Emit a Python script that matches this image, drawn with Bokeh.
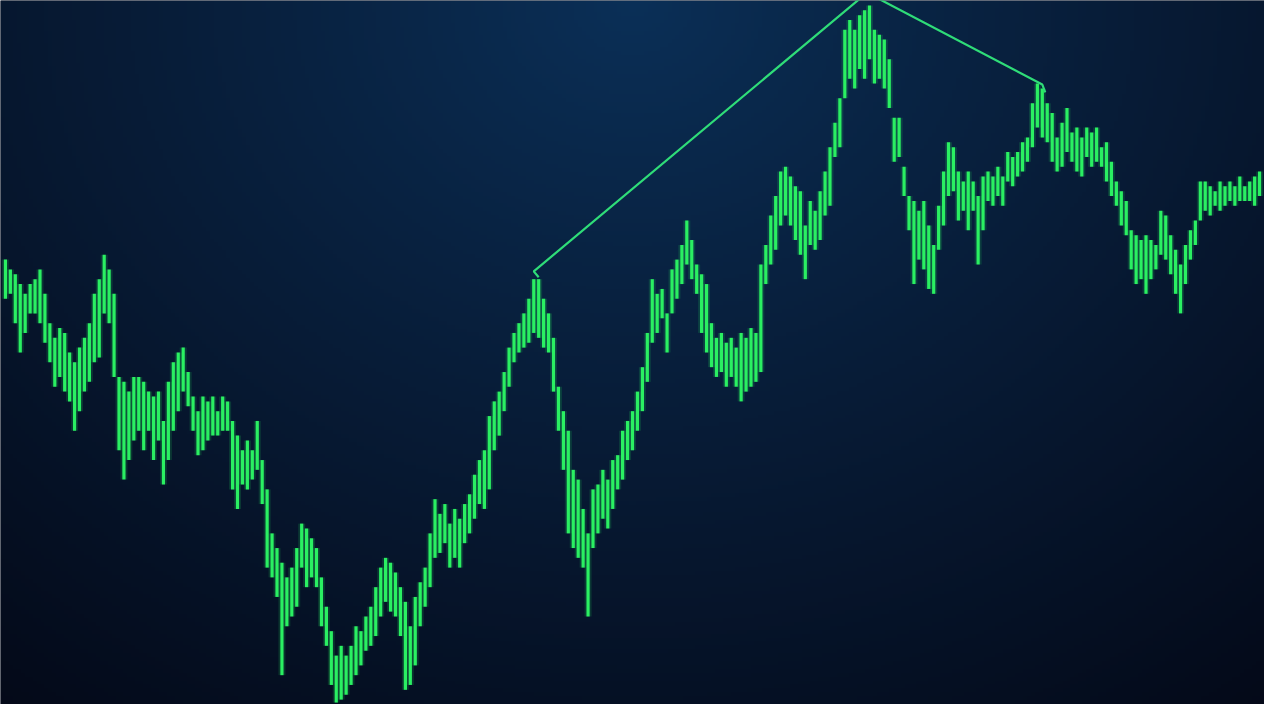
import numpy as np
from bokeh.plotting import figure
from bokeh.models import Range1d, ColumnDataSource
from bokeh.embed import file_html
from bokeh.resources import INLINE

# Bar index (1..255) and high / low prices
highs = [455, 445, 440, 430, 420, 430, 435, 445, 420, 390, 375, 385, 380, 360, 350, 365, 375, 390, 420, 435,
         460, 445, 420, 335, 330, 320, 335, 335, 330, 320, 315, 320, 290, 330, 350, 360, 365, 340, 315, 300,
         315, 310, 315, 300, 315, 310, 290, 275, 260, 270, 260, 290, 250, 220, 175, 160, 145, 130, 140, 160,
         185, 180, 170, 160, 130, 100, 75, 50, 60, 50, 60, 80, 75, 90, 100, 120, 140, 150, 145, 135,
         120, 105, 80, 110, 125, 140, 175, 210, 195, 205, 185, 200, 190, 205, 215, 235, 250, 260, 295, 310,
         320, 340, 365, 380, 390, 400, 415, 435, 435, 415, 400, 375, 325, 300, 280, 240, 230, 200, 175, 220,
         225, 240, 230, 250, 255, 280, 290, 300, 320, 345, 380, 435, 420, 425, 400, 445, 455, 470, 495, 475,
         450, 440, 430, 390, 375, 380, 370, 375, 365, 380, 375, 385, 380, 450, 470, 500, 520, 545, 550, 540,
         530, 525, 490, 515, 505, 525, 545, 570, 595, 620, 690, 700, 690, 705, 710, 715, 690, 685, 680, 660,
         600, 600, 550, 520, 515, 505, 515, 490, 470, 510, 545, 575, 570, 545, 535, 545, 535, 520, 540, 545,
         540, 550, 540, 565, 560, 565, 575, 580, 615, 635, 630, 615, 605, 580, 595, 610, 585, 590, 580, 590,
         585, 590, 570, 575, 555, 535, 525, 515, 485, 480, 475, 480, 475, 470, 505, 500, 480, 465, 450, 470,
         485, 495, 535, 535, 530, 525, 535, 530, 535, 530, 540, 530, 535, 540, 545]
lows = [415, 420, 390, 360, 380, 400, 400, 390, 370, 350, 325, 335, 320, 310, 280, 300, 320, 330, 350, 355,
        400, 390, 335, 260, 230, 250, 270, 280, 260, 280, 250, 270, 225, 250, 280, 300, 320, 305, 280, 255,
        260, 270, 275, 275, 280, 280, 220, 200, 225, 220, 230, 240, 205, 140, 130, 110, 30, 80, 90, 100,
        140, 120, 130, 120, 80, 60, 20, 2, 5, 10, 20, 30, 40, 55, 60, 70, 90, 105, 95, 90,
        70, 15, 20, 40, 80, 100, 120, 150, 155, 165, 140, 150, 140, 165, 175, 190, 205, 200, 220, 260,
        275, 300, 325, 350, 360, 365, 370, 380, 375, 365, 360, 320, 280, 240, 175, 160, 150, 140, 90, 160,
        175, 190, 180, 200, 220, 230, 250, 260, 280, 300, 330, 370, 380, 395, 360, 400, 415, 430, 450, 435,
        420, 380, 360, 345, 335, 340, 325, 335, 325, 310, 320, 325, 330, 340, 430, 450, 465, 490, 500, 490,
        475, 460, 435, 470, 465, 475, 500, 510, 560, 570, 620, 640, 630, 650, 640, 660, 635, 640, 630, 610,
        555, 560, 520, 485, 430, 455, 445, 425, 420, 465, 490, 520, 525, 495, 505, 485, 505, 450, 485, 515,
        510, 520, 510, 535, 530, 540, 545, 555, 570, 590, 580, 575, 555, 545, 550, 565, 555, 545, 540, 560,
        550, 555, 550, 535, 520, 510, 490, 480, 445, 430, 435, 420, 435, 445, 460, 455, 440, 420, 400, 430,
        455, 470, 495, 505, 500, 510, 505, 510, 515, 510, 515, 515, 515, 510, 520]
bar_index = list(range(1, len(highs) + 1))

# Head-and-shoulders outline: left shoulder, head, right shoulder
pattern_index = [109, 108, 175.5, 211, 211.6]
pattern_price = [437, 443, 728, 634, 626]

W, H = 1264, 704
p = figure(width=W, height=H, output_backend="svg", toolbar_location=None,
           x_range=Range1d(0, 256), y_range=Range1d(0, 720),
           min_border=0, background_fill_color="#050a1a", border_fill_color="#050a1a")
p.axis.visible = False
p.grid.visible = False
p.outline_line_color = None

# background gradient (brighter toward the top centre)
ny, nx = 180, 320
yy, xx = np.mgrid[0:ny, 0:nx]
u = xx / (nx - 1)
v = yy / (ny - 1)  # 0 bottom, 1 top
d = np.sqrt(((u - 0.5) / 0.75) ** 2 + ((1 - v) / 1.15) ** 2)
t = np.clip(d / 1.15, 0, 1) ** 0.9
c0 = np.array([11, 48, 88])
c1 = np.array([4, 8, 22])
img = np.empty((ny, nx), dtype=np.uint32)
view = img.view(dtype=np.uint8).reshape((ny, nx, 4))
for k in range(3):
    view[:, :, k] = (c0[k] * (1 - t) + c1[k] * t).astype(np.uint8)
view[:, :, 3] = 255
p.image_rgba(image=[img], x=0, y=0, dw=256, dh=720)

src = ColumnDataSource(dict(x=bar_index, hi=highs, lo=lows))
p.segment(x0="x", y0="lo", x1="x", y1="hi", source=src, line_color="#1fd85a",
          line_width=7, line_alpha=0.18)
p.segment(x0="x", y0="lo", x1="x", y1="hi", source=src, line_color="#2aef62",
          line_width=3.2)

p.line(pattern_index, pattern_price, line_color="#2fdc78", line_width=2.2)

open("out.html", "w").write(file_html(p, INLINE))
